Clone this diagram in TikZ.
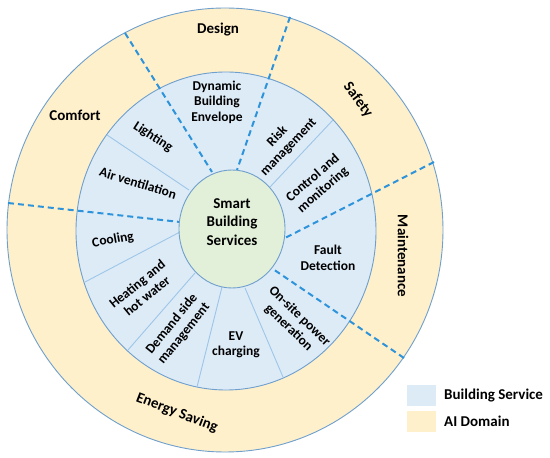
\documentclass[tikz,border=0pt]{standalone}
\usepackage{fontspec}
\setmainfont{Carlito}
\usepackage{tikz}

\definecolor{aiyellow}{HTML}{FFF0CC}
\definecolor{bsblue}{HTML}{DDEBF7}
\definecolor{sbgreen}{HTML}{E2F0D9}
\definecolor{rimblue}{HTML}{6E9FCD}
\definecolor{dashblue}{HTML}{2D93DA}
\definecolor{thinblue}{HTML}{9DC6E8}

\begin{document}
\begin{tikzpicture}[x=1pt, y=1pt,
  rim/.style = {draw=rimblue, line width=0.9pt},
  split/.style = {dashblue, line width=2pt, dash pattern=on 6pt off 4pt},
  sub/.style = {thinblue, line width=0.9pt},
  aidom/.style = {font=\fontsize{15}{18}\selectfont\bfseries, align=center},
  bserv/.style = {font=\fontsize{13.5}{15.5}\selectfont\bfseries, align=center, inner sep=0pt},
  legtext/.style = {font=\fontsize{15}{18}\selectfont\bfseries, anchor=west, inner sep=0pt}]
\useasboundingbox (0,0) rectangle (550,458);

% rings
\fill[aiyellow, rim] (225,228) ellipse [x radius=218, y radius=222];
\fill[bsblue, rim] (226,227) ellipse [x radius=150, y radius=159];

% service borders
\coordinate (l1) at (107,323); \coordinate (l2) at (189,268);
\coordinate (c1) at (85,176);  \coordinate (c2) at (180,226);
\coordinate (h1) at (128,108); \coordinate (h2) at (195,185);
\coordinate (e1) at (197,71);  \coordinate (e2) at (222,171);
\coordinate (o1) at (283,81);  \coordinate (o2) at (245,170);
\coordinate (r1) at (333,338); \coordinate (r2) at (270,271);
\draw[sub] (l1) -- (l2);
\draw[sub] (c1) -- (c2);
\draw[sub] (h1) -- (h2);
\draw[sub] (e1) -- (e2);
\draw[sub] (o1) -- (o2);
\draw[sub] (r1) -- (r2);

% domain borders
\coordinate (d1) at (125,425); \coordinate (d2) at (212,286);
\coordinate (s1) at (290,441); \coordinate (s2) at (237,288);
\coordinate (m1) at (434,296); \coordinate (m2) at (285,220);
\coordinate (g1) at (404,100); \coordinate (g2) at (270,191);
\coordinate (f1) at (8,255);   \coordinate (f2) at (180,236);
\draw[split] (d1) -- (d2);
\draw[split] (s1) -- (s2);
\draw[split] (m1) -- (m2);
\draw[split] (g1) -- (g2);
\draw[split] (f1) -- (f2);

% centre
\fill[sbgreen, rim] (232,229) ellipse [x radius=53, y radius=59];
\node[aidom, font=\fontsize{15}{18.5}\selectfont\bfseries] (sbs) at (232,236) {Smart\\Building\\Services};

% AI domains
\node[aidom] (design) at (218,428) {Design};
\node[aidom] (comfort) at (75,343) {Comfort};
\node[aidom, rotate=-53] (safety) at (358,358) {Safety};
\node[aidom, rotate=-90] (maint) at (403,202) {Maintenance};
\node[aidom, rotate=-21] (energy) at (177,45) {Energy Saving};

% building services
\node[bserv] (dbe) at (217,356) {Dynamic\\Building\\Envelope};
\node[bserv, rotate=-33] (light) at (153,321) {Lighting};
\node[bserv, rotate=-17] (air) at (138,275) {Air ventilation};
\node[bserv, rotate=10] (cool) at (113,218) {Cooling};
\node[bserv, rotate=39] (heat) at (142,168) {Heating and\\hot water};
\node[bserv, rotate=51] (dsm) at (178,129) {Demand side\\management};
\node[bserv] (ev) at (236,113) {EV\\charging};
\node[bserv, rotate=-44] (onsite) at (294,136) {On-site power\\generation};
\node[bserv] (fault) at (328,200) {Fault\\Detection};
\node[bserv, rotate=41] (ctrl) at (318,274) {Control and\\monitoring};
\node[bserv, rotate=46] (risk) at (283,316) {Risk\\management};

% legend
\fill[bsblue] (407,52) rectangle (436,73);
\fill[aiyellow] (407,26) rectangle (436,47);
\node[legtext] (kbs) at (444,62) {Building Service};
\node[legtext] (kai) at (444,37) {AI Domain};
\end{tikzpicture}
\end{document}
